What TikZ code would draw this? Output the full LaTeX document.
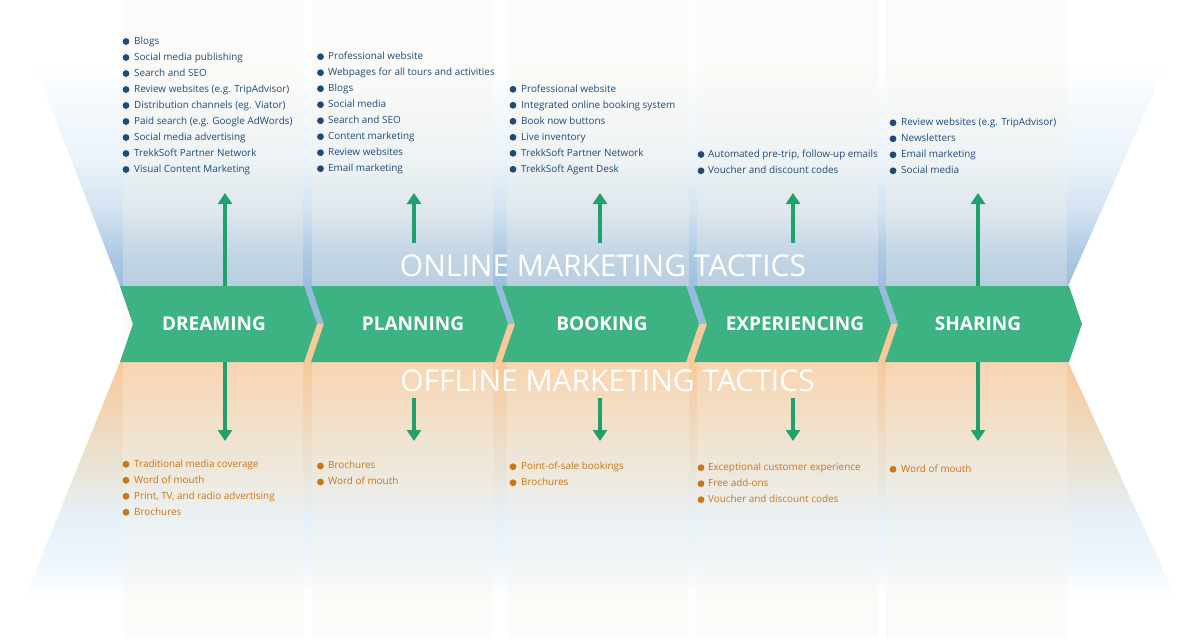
\documentclass[tikz,border=0pt]{standalone}
\usepackage{fontspec}
\setmainfont{Open Sans}
\usetikzlibrary{arrows.meta}

\definecolor{stagegreen}{HTML}{3DB384}
\definecolor{arrowgreen}{HTML}{22A06B}
\definecolor{onlineblue}{HTML}{1D4C7C}
\definecolor{offlineorange}{HTML}{C8761A}
\definecolor{columnbeige}{HTML}{F9F3EA}
% top fan
\definecolor{gapblue}{HTML}{96BBDD}
\definecolor{blueA}{HTML}{9CBEDD}
\definecolor{blueB}{HTML}{B0CBE4}
\definecolor{blueC}{HTML}{D3E3F1}
\definecolor{blueD}{HTML}{EAF3FA}
\definecolor{blueE}{HTML}{F6FAFD}
% bottom fan
\definecolor{gaporange}{HTML}{F8C99A}
\definecolor{orangeA}{HTML}{F3D2AE}
\definecolor{orangeB}{HTML}{EDDDC6}
\definecolor{orangeC}{HTML}{E9E5DA}
\definecolor{orangeD}{HTML}{E6F0F8}
\definecolor{orangeE}{HTML}{EEF6FC}

\pgfdeclareverticalshading{onlinefade}{100bp}{color(0bp)=(gapblue); color(25bp)=(gapblue);
  color(32.2bp)=(blueA); color(39.1bp)=(blueB); color(46.7bp)=(blueC);
  color(56.2bp)=(blueD); color(67.6bp)=(blueE); color(75bp)=(white); color(100bp)=(white)}
\pgfdeclareverticalshading{offlinefade}{100bp}{color(0bp)=(white); color(26.7bp)=(white);
  color(33.7bp)=(orangeE); color(41.6bp)=(orangeD); color(48.6bp)=(orangeC);
  color(54.7bp)=(orangeB); color(61.7bp)=(orangeA); color(68.4bp)=(gaporange); color(100bp)=(gaporange)}

\tikzset{
  stagelabel/.style={text=white, inner sep=0, font=\fontsize{19}{19}\selectfont\bfseries},
  tacticshead/.style={text=white, inner sep=0, font=\fontsize{30}{30}\selectfont},
  tacticarrow/.style={draw=arrowgreen, line width=3.5pt, -{Triangle[width=14pt,length=11pt]}},
  onlineitem/.style={anchor=west, inner sep=0, text height=7.6pt, text depth=2.2pt,
    font=\fontsize{9.9}{12}\selectfont, text=onlineblue},
  offlineitem/.style={onlineitem, text=offlineorange}
}

\begin{document}
\begin{tikzpicture}[x=1pt, y=-1pt]
  \useasboundingbox (0,0) rectangle (1200,638);

  % fans
  \shade[shading=onlinefade] (33,61) -- (120,286) -- (133,324) -- (1080,324) -- (1068,286) -- (1168,61) -- cycle;
  \shade[shading=offlinefade] (133,324) -- (120,362) -- (20,610) -- (1182,610) -- (1068,362) -- (1080,324) -- cycle;

  % columns
  \foreach \a/\b in {123/303, 312/493, 507/689, 697/878, 886/1067}
    \fill[columnbeige, opacity=0.3] (\a,0) rectangle (\b,638);

  % gaps between the stages
  \fill[gapblue] (300,286) rectangle (900,324);
  \fill[gaporange] (300,324) rectangle (900,362);

  % stages
  \foreach \x/\nm/\lbl/\lx in {120/dreaming/DREAMING/214, 311/planning/PLANNING/413,
      502/booking/BOOKING/602, 694/experiencing/EXPERIENCING/795, 885/sharing/SHARING/978} {
    \fill[stagegreen] (\x,286) -- ++(184,0) -- ++(13,38) -- ++(-13,38) -- ++(-184,0) -- ++(13,-38) -- cycle;
    \node[stagelabel] (\nm) at (\lx,324) {\lbl};
  }

  % arrows
  \foreach \nm/\ax/\ut/\dt in {dreaming/225/286/362, planning/414/243/398, booking/600/243/398,
      experiencing/793/243/398, sharing/978/286/362} {
    \coordinate (\nm-up-tail) at (\ax,\ut);
    \coordinate (\nm-up) at (\ax,193);
    \coordinate (\nm-down-tail) at (\ax,\dt);
    \coordinate (\nm-down) at (\ax,441);
    \draw[tacticarrow] (\nm-up-tail) -- (\nm-up);
    \draw[tacticarrow] (\nm-down-tail) -- (\nm-down);
  }

  \node[tacticshead] (online-head) at (603,265.5) {ONLINE MARKETING TACTICS};
  \node[tacticshead] (offline-head) at (607.5,380.5) {OFFLINE MARKETING TACTICS};

  % online lists
  \foreach \t [count=\i from 0] in {Blogs, Social media publishing, Search and SEO,
      Review websites (e.g. TripAdvisor), Distribution channels (eg. Viator),
      Paid search (e.g. Google AdWords), Social media advertising,
      TrekkSoft Partner Network, Visual Content Marketing} {
    \node[onlineitem] (dreaming-on-\i) at (134,{41.5+16*\i}) {\t};
    \fill[onlineblue] ([xshift=-8pt]dreaming-on-\i.west) circle (3.4pt);
  }
  \foreach \t [count=\i from 0] in {Professional website, Webpages for all tours and activities,
      Blogs, Social media, Search and SEO, Content marketing, Review websites, Email marketing} {
    \node[onlineitem] (planning-on-\i) at (328,{56.7+16*\i}) {\t};
    \fill[onlineblue] ([xshift=-7.5pt]planning-on-\i.west) circle (3.4pt);
  }
  \foreach \t [count=\i from 0] in {Professional website, Integrated online booking system,
      Book now buttons, Live inventory, TrekkSoft Partner Network, TrekkSoft Agent Desk} {
    \node[onlineitem] (booking-on-\i) at (521,{89.3+16*\i}) {\t};
    \fill[onlineblue] ([xshift=-8pt]booking-on-\i.west) circle (3.4pt);
  }
  \foreach \t [count=\i from 0] in {{Automated pre-trip, follow-up emails}, Voucher and discount codes} {
    \node[onlineitem] (experiencing-on-\i) at (708,{154.5+16.3*\i}) {\t};
    \fill[onlineblue] ([xshift=-7pt]experiencing-on-\i.west) circle (3.4pt);
  }
  \foreach \t [count=\i from 0] in {Review websites (e.g. TripAdvisor), Newsletters,
      Email marketing, Social media} {
    \node[onlineitem] (sharing-on-\i) at (901,{122.8+16*\i}) {\t};
    \fill[onlineblue] ([xshift=-8pt]sharing-on-\i.west) circle (3.4pt);
  }

  % offline lists
  \foreach \t [count=\i from 0] in {Traditional media coverage, Word of mouth,
      {Print, TV, and radio advertising}, Brochures} {
    \node[offlineitem] (dreaming-off-\i) at (134,{464.3+16*\i}) {\t};
    \fill[offlineorange] ([xshift=-8pt]dreaming-off-\i.west) circle (3.4pt);
  }
  \foreach \t [count=\i from 0] in {Brochures, Word of mouth} {
    \node[offlineitem] (planning-off-\i) at (328,{466+16*\i}) {\t};
    \fill[offlineorange] ([xshift=-7.5pt]planning-off-\i.west) circle (3.4pt);
  }
  \foreach \t [count=\i from 0] in {Point-of-sale bookings, Brochures} {
    \node[offlineitem] (booking-off-\i) at (521,{466.7+16*\i}) {\t};
    \fill[offlineorange] ([xshift=-8pt]booking-off-\i.west) circle (3.4pt);
  }
  \foreach \t [count=\i from 0] in {Exceptional customer experience, Free add-ons,
      Voucher and discount codes} {
    \node[offlineitem] (experiencing-off-\i) at (708,{467.7+16*\i}) {\t};
    \fill[offlineorange] ([xshift=-7pt]experiencing-off-\i.west) circle (3.4pt);
  }
  \foreach \t [count=\i from 0] in {Word of mouth} {
    \node[offlineitem] (sharing-off-\i) at (901,{469.3+16*\i}) {\t};
    \fill[offlineorange] ([xshift=-8pt]sharing-off-\i.west) circle (3.4pt);
  }
\end{tikzpicture}
\end{document}
